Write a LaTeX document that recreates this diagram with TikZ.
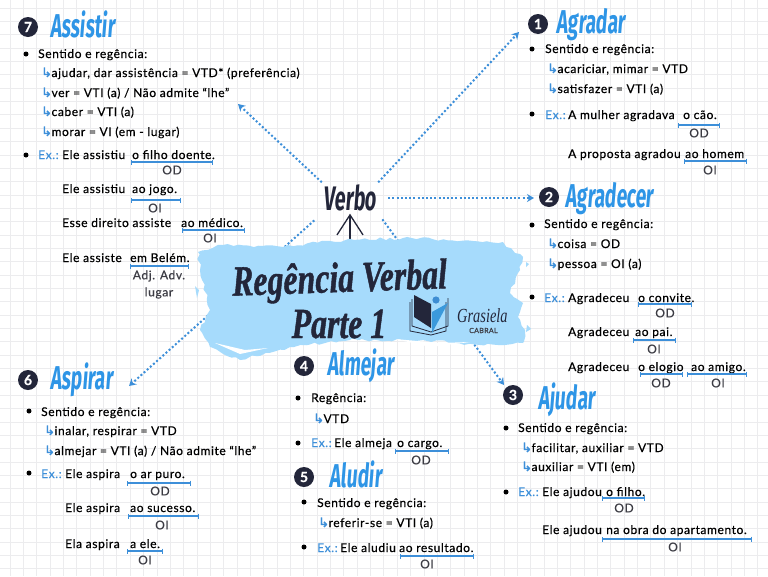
\documentclass[tikz,border=0pt]{standalone}
\usepackage{fontspec}
\usepackage{tikz}
\usetikzlibrary{arrows.meta}
\usetikzlibrary{decorations.pathmorphing}
\setmainfont[LetterSpace=5,FakeBold=0.5]{Lato}
\newfontfamily\headfont[FakeStretch=0.58,FakeSlant=0.08]{Fira Sans}
\newfontfamily\brushfont[FakeStretch=0.74,FakeBold=1]{Liberation Serif}
\newfontfamily\logofont[FakeStretch=0.72]{Liberation Serif}
\newfontfamily\hookfont[FakeBold=1.6]{DejaVu Sans}
\definecolor{gridgray}{HTML}{ECECEE}
\definecolor{paleblue}{HTML}{A6DBFC}
\definecolor{linkblue}{HTML}{3D8FD9}
\definecolor{headblue}{HTML}{2E95E6}
\definecolor{inkdark}{HTML}{23263A}
\definecolor{labgray}{HTML}{3C3C44}
\newcommand{\hk}{{\hookfont\fontsize{13}{13}\selectfont\textcolor{linkblue}{↳}}\kern-0.5pt}
\tikzset{
  bodytext/.style={anchor=base west, inner sep=0pt, text=black, font=\fontsize{12}{14}\selectfont},
  extag/.style={bodytext, text=linkblue},
  headtext/.style={anchor=base west, inner sep=0pt, text=headblue, font=\headfont\bfseries\fontsize{33}{36}\selectfont},
  numdot/.style={circle, fill=inkdark, text=white, inner sep=0pt, minimum size=20pt, font=\bfseries\fontsize{14}{14}\selectfont},
  bulletdot/.style={circle, fill=black, inner sep=0pt, minimum size=5pt},
  lab/.style={inner sep=0pt, text=labgray, font=\fontsize{12}{14}\selectfont},
  bar/.style={{|[width=5pt,length=1pt]}-{|[width=5pt,length=1pt]}, linkblue, line width=1.2pt},
  dotarrow/.style={-{Stealth[length=7pt,width=8pt]}, linkblue, line width=2pt, dash pattern=on 2pt off 2.2pt},
}
\begin{document}
\begin{tikzpicture}[x=1pt, y=-1pt]
  \useasboundingbox (0, 0) rectangle (768, 576);
  \fill[white] (0, 0) rectangle (768, 576);
  \foreach \gx in {0, ..., 57}
    \draw[gridgray, line width=0.7pt] (10+13.35*\gx, 0)--(10+13.35*\gx, 576);
  \foreach \gy in {0, ..., 43}
    \draw[gridgray, line width=0.7pt] (0, 8+13.35*\gy)--(768, 8+13.35*\gy);

  \node[inner sep=0pt, minimum width=56pt, minimum height=31pt, text=inkdark, font=\headfont\bfseries\fontsize{34}{36}\selectfont] (verbo) at (350, 198){Verbo};
  \coordinate (tipassistir) at (238, 104);
  \coordinate (tipagradar) at (519, 32);
  \coordinate (tipagradecer) at (534, 198);
  \coordinate (tipajudar) at (504, 385);
  \coordinate (tipaspirar) at (129, 386);
  \coordinate (bannertop) at (350, 246);
  \draw[dotarrow] (verbo.north west)--(tipassistir);
  \draw[dotarrow] (verbo.north east)--(tipagradar);
  \draw[dotarrow, shorten <=10pt] (verbo.east)--(tipagradecer);
  \draw[dotarrow, shorten <=7pt] (verbo.south east)--(tipajudar);
  \draw[dotarrow, shorten <=10pt] (verbo.south west)--(tipaspirar);
  \draw[-{Straight Barb[length=20pt,width=26pt]}, inkdark, line width=1.3pt] (bannertop)--(verbo.south);

  \pgfmathsetseed{7}
  \fill[paleblue, decorate, decoration={random steps, segment length=5pt, amplitude=1.5pt}]
    (198, 252)--(223, 245)--(283, 247)--(330, 241)--(403, 238)--(503, 242)--(515, 253)--(523, 257)--(520, 270)
    --(510, 293)--(523, 303)--(518, 317)--(525, 330)--(523, 343)--(480, 345)--(423, 340)--(350, 340)--(290, 347)
    --(240, 360)--(210, 347)--(200, 330)--(210, 310)--(200, 270)--cycle;
  \fill[white] (215, 343)--(245, 350)--(268, 348)--(240, 354)--cycle;
  \fill[white] (395, 339)--(440, 343)--(470, 342)--(430, 347)--cycle;
  \fill[paleblue] (526, 262)--(529, 264)--(526, 267)--cycle;
  \fill[paleblue] (527, 325)--(531, 329)--(526, 332)--cycle;
  \fill[paleblue] (195, 286)--(199, 290)--(197, 298)--cycle;

  \node[anchor=base, inner sep=0pt, rotate=2, text=inkdark, font=\brushfont\bfseries\itshape\fontsize{43}{45}\selectfont] (title1) at (340, 292){Regência Verbal};
  \node[anchor=base, inner sep=0pt, text=inkdark, font=\brushfont\bfseries\itshape\fontsize{43}{45}\selectfont] (title2) at (339, 338){Parte 1};

  \fill[inkdark] (414, 295)--(431, 304)--(431, 328)--(414, 317)--cycle;
  \draw[inkdark, line width=0.8pt] (410, 302)--(410, 331)--(431, 335)--(446, 331)--(446, 302);
  \draw[inkdark, line width=0.8pt] (412, 299)--(412, 326)--(431, 332)--(448, 326)--(448, 298);
  \fill[cyan!70!blue!80] (448, 303)--(432, 333)--(432, 312)--cycle;
  \fill[cyan!60!blue!80] (436, 300) circle (3.6);
  \node[anchor=base west, inner sep=0pt, text=inkdark, font=\logofont\itshape\fontsize{20}{20}\selectfont] (logoname) at (457, 322){Grasiela};
  \node[anchor=base west, inner sep=0pt, text=labgray, font=\fontsize{7}{7}\selectfont] (logosub) at (469, 333){CABRAL};

  % 7
  \node[numdot] (n7) at (28, 27){7};
  \node[headtext] (assistir) at (50, 37){Assistir};
  \node[bulletdot] (b71) at (26, 54){};
  \node[bodytext] (t71) at (38, 58){Sentido e regência:};
  \node[bodytext] (t72) at (41, 77){\hk ajudar, dar assistência = VTD* (preferência)};
  \node[bodytext] (t73) at (41, 97){\hk ver = VTI (a) / Não admite “lhe”};
  \node[bodytext] (t74) at (41, 116){\hk caber = VTI (a)};
  \node[bodytext] (t75) at (41, 136){\hk morar = VI (em - lugar)};
  \node[bulletdot] (b72) at (26, 155){};
  \node[extag] (x7) at (38, 159){Ex.:};
  \node[bodytext] (t76) at (62, 159){Ele assistiu};
  \node[bodytext] (o71) at (132, 159){o filho doente.};
  \coordinate (a71) at (131, 162); \coordinate (c71) at (213, 162);
  \draw[bar] (a71)--(c71);
  \node[lab] (l71) at (172, 170){OD};
  \node[bodytext] (t77) at (62, 193){Ele assistiu};
  \node[bodytext] (o72) at (132, 193){ao jogo.};
  \coordinate (a72) at (131, 200); \coordinate (c72) at (181, 200);
  \draw[bar] (a72)--(c72);
  \node[lab] (l72) at (155, 208){OI};
  \node[bodytext] (t78) at (62, 227){Esse direito assiste};
  \node[bodytext] (o73) at (181, 227){ao médico.};
  \coordinate (a73) at (182, 230); \coordinate (c73) at (245, 230);
  \draw[bar] (a73)--(c73);
  \node[lab] (l73) at (210, 238){OI};
  \node[bodytext] (t79) at (62, 262){Ele assiste};
  \node[bodytext] (o74) at (130, 262){em Belém.};
  \coordinate (a74) at (130, 266); \coordinate (c74) at (189, 266);
  \draw[bar] (a74)--(c74);
  \node[lab] (l74) at (159, 276){Adj. Adv.};
  \node[lab] (l75) at (159, 293){lugar};

  % 1
  \node[numdot] (n1) at (538, 24){1};
  \node[headtext] (agradar) at (556, 33){Agradar};
  \node[bulletdot] (b11) at (532, 49){};
  \node[bodytext] (t11) at (545, 53){Sentido e regência:};
  \node[bodytext] (t12) at (547, 73){\hk acariciar, mimar = VTD};
  \node[bodytext] (t13) at (547, 93){\hk satisfazer = VTI (a)};
  \node[bulletdot] (b12) at (532, 114){};
  \node[extag] (x1) at (545, 119){Ex.:};
  \node[bodytext] (t14) at (568, 119){A mulher agradava};
  \node[bodytext] (o11) at (683, 119){o cão.};
  \coordinate (a11) at (678, 125); \coordinate (c11) at (720, 125);
  \draw[bar] (a11)--(c11);
  \node[lab] (l11) at (699, 133){OD};
  \node[bodytext] (t15) at (568, 158){A proposta agradou};
  \node[bodytext] (o12) at (685, 158){ao homem};
  \coordinate (a12) at (684, 161); \coordinate (c12) at (747, 161);
  \draw[bar] (a12)--(c12);
  \node[lab] (l12) at (710, 170){OI};

  % 2
  \node[numdot] (n2) at (549, 197){2};
  \node[headtext] (agradecer) at (565, 207){Agradecer};
  \node[bulletdot] (b21) at (532, 225){};
  \node[bodytext] (t21) at (544, 228){Sentido e regência:};
  \node[bodytext] (t22) at (547, 248){\hk coisa = OD};
  \node[bodytext] (t23) at (547, 268){\hk pessoa = OI (a)};
  \node[bulletdot] (b22) at (532, 297){};
  \node[extag] (x2) at (544, 302){Ex.:};
  \node[bodytext] (t24) at (568, 302){Agradeceu};
  \node[bodytext] (o21) at (638, 302){o convite.};
  \coordinate (a21) at (638, 304); \coordinate (c21) at (692, 304);
  \draw[bar] (a21)--(c21);
  \node[lab] (l21) at (665, 313){OD};
  \node[bodytext] (t25) at (568, 336){Agradeceu};
  \node[bodytext] (o22) at (635, 336){ao pai.};
  \coordinate (a22) at (633, 340); \coordinate (c22) at (676, 340);
  \draw[bar] (a22)--(c22);
  \node[lab] (l22) at (654, 349){OI};
  \node[bodytext] (t26) at (568, 371){Agradeceu};
  \node[bodytext] (o23) at (638, 371){o elogio};
  \coordinate (a23) at (640, 374); \coordinate (c23) at (683, 374);
  \draw[bar] (a23)--(c23);
  \node[lab] (l23) at (661, 383){OD};
  \node[bodytext] (o24) at (691, 371){ao amigo.};
  \coordinate (a24) at (687, 374); \coordinate (c24) at (747, 374);
  \draw[bar] (a24)--(c24);
  \node[lab] (l24) at (718, 383){OI};

  % 3
  \node[numdot] (n3) at (513, 395){3};
  \node[headtext] (ajudar) at (538, 409){Ajudar};
  \node[bulletdot] (b31) at (506, 428){};
  \node[bodytext] (t31) at (518, 432){Sentido e regência:};
  \node[bodytext] (t32) at (521, 452){\hk facilitar, auxiliar = VTD};
  \node[bodytext] (t33) at (521, 471){\hk auxiliar = VTI (em)};
  \node[bulletdot] (b32) at (506, 492){};
  \node[extag] (x3) at (518, 496){Ex.:};
  \node[bodytext] (t34) at (542, 496){Ele ajudou};
  \node[bodytext] (o31) at (606, 496){o filho.};
  \coordinate (a31) at (602, 498); \coordinate (c31) at (645, 498);
  \draw[bar] (a31)--(c31);
  \node[lab] (l31) at (624, 508){OD};
  \node[bodytext] (t35) at (542, 534){Ele ajudou};
  \node[bodytext] (o32) at (606, 534){na obra do apartamento.};
  \coordinate (a32) at (602, 539); \coordinate (c32) at (752, 539);
  \draw[bar] (a32)--(c32);
  \node[lab] (l32) at (675, 547){OI};

  % 4
  \node[numdot] (n4) at (304, 366){4};
  \node[headtext] (almejar) at (327, 375){Almejar};
  \node[bulletdot] (b41) at (298, 398){};
  \node[bodytext] (t41) at (311, 402){Regência:};
  \node[bodytext] (t42) at (313, 423){\hk VTD};
  \node[bulletdot] (b42) at (298, 443){};
  \node[extag] (x4) at (311, 447){Ex.:};
  \node[bodytext] (t43) at (334, 447){Ele almeja};
  \node[bodytext] (o41) at (397, 447){o cargo.};
  \coordinate (a41) at (395, 451); \coordinate (c41) at (449, 451);
  \draw[bar] (a41)--(c41);
  \node[lab] (l41) at (421, 460){OD};

  % 5
  \node[numdot] (n5) at (304, 477){5};
  \node[headtext] (aludir) at (329, 487){Aludir};
  \node[bulletdot] (b51) at (304, 502){};
  \node[bodytext] (t51) at (317, 507){Sentido e regência:};
  \node[bodytext] (t52) at (318, 527){\hk referir-se = VTI (a)};
  \node[bulletdot] (b52) at (304, 547){};
  \node[extag] (x5) at (317, 552){Ex.:};
  \node[bodytext] (t53) at (340, 552){Ele aludiu};
  \node[bodytext] (o51) at (399, 552){ao resultado.};
  \coordinate (a51) at (400, 556); \coordinate (c51) at (474, 556);
  \draw[bar] (a51)--(c51);
  \node[lab] (l51) at (427, 564){OI};

  % 6
  \node[numdot] (n6) at (28, 380){6};
  \node[headtext] (aspirar) at (50, 389){Aspirar};
  \node[bulletdot] (b61) at (29, 411){};
  \node[bodytext] (t61) at (41, 416){Sentido e regência:};
  \node[bodytext] (t62) at (44, 435){\hk inalar, respirar = VTD};
  \node[bodytext] (t63) at (44, 455){\hk almejar = VTI (a) / Não admite “lhe”};
  \node[bulletdot] (b62) at (29, 473){};
  \node[extag] (x6) at (41, 478){Ex.:};
  \node[bodytext] (t64) at (65, 478){Ele aspira};
  \node[bodytext] (o61) at (130, 478){o ar puro.};
  \coordinate (a61) at (127, 483); \coordinate (c61) at (191, 483);
  \draw[bar] (a61)--(c61);
  \node[lab] (l61) at (160, 491){OD};
  \node[bodytext] (t65) at (65, 512){Ele aspira};
  \node[bodytext] (o62) at (130, 512){ao sucesso.};
  \coordinate (a62) at (128, 516); \coordinate (c62) at (199, 516);
  \draw[bar] (a62)--(c62);
  \node[lab] (l62) at (162, 525){OI};
  \node[bodytext] (t66) at (65, 548){Ela aspira};
  \node[bodytext] (o63) at (130, 548){a ele.};
  \coordinate (a63) at (127, 551); \coordinate (c63) at (163, 551);
  \draw[bar] (a63)--(c63);
  \node[lab] (l63) at (145, 560){OI};
\end{tikzpicture}
\end{document}
